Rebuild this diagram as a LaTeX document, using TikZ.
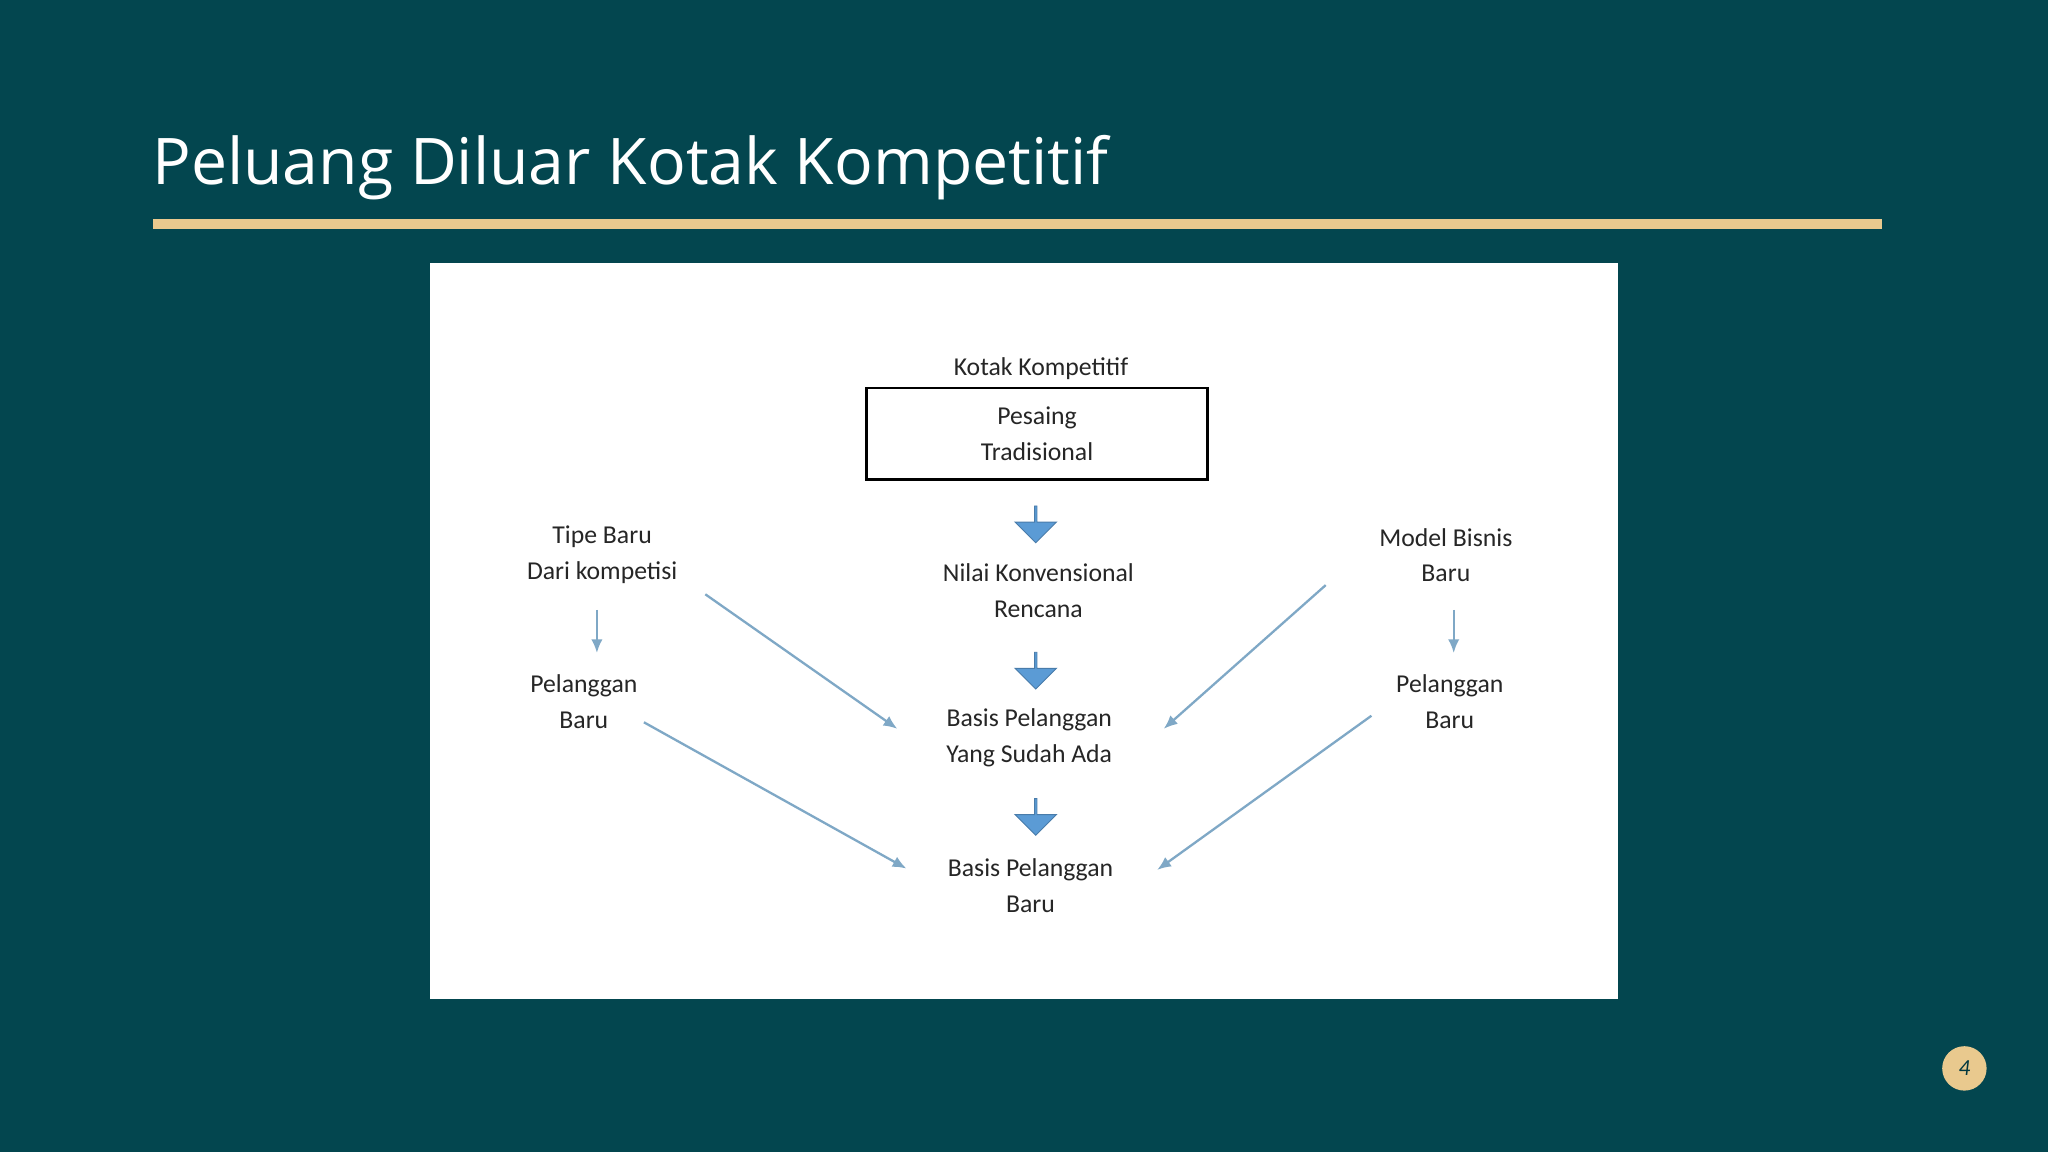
\documentclass[tikz,border=0pt]{standalone}
\usepackage{fontspec}
\setmainfont{Carlito}
\newfontfamily\titlefont{Open Sans}
\usetikzlibrary{shapes.arrows,arrows.meta}
\definecolor{bg}{HTML}{03464F}
\definecolor{gold}{HTML}{E9C98E}
\definecolor{blk}{HTML}{5B9BD5}
\definecolor{thin}{HTML}{7FA8C6}
\tikzset{
 lbl/.style={font=\fontsize{5.6pt}{7.8pt}\selectfont, align=center, text=black!85, inner sep=0pt},
 barrow/.style={single arrow, shape border rotate=270, fill=blk, draw=blk!80!black, line width=0.2pt, minimum width=9pt, minimum height=8pt, single arrow head extend=1.6pt, inner sep=0pt},
 tarrow/.style={draw=thin, line width=0.5pt, -{Latex[length=3pt,width=2.5pt]}}
}
\begin{document}
\begin{tikzpicture}[x=0.01cm,y=-0.01cm]
\fill[bg] (0,0) rectangle (1568,882);
\useasboundingbox (0,0) rectangle (1568,882);
\node[anchor=west, text=white, font=\titlefont\fontsize{14pt}{16pt}\selectfont, inner sep=0pt] (title) at (116,128) {Peluang Diluar Kotak Kompetitif};
\fill[gold] (117,168) rectangle (1441,175);
\fill[white] (329,201) rectangle (1239,765);
\node[lbl] (kk) at (797,282) {Kotak Kompetitif};
\node[lbl, draw=black, line width=0.6pt, minimum width=2.61cm, minimum height=0.7cm] (pt) at (794,332) {Pesaing\\Tradisional};
\node[barrow] (a1) at (793,401) {};
\node[lbl] (nk) at (795,452) {Nilai Konvensional\\Rencana};
\node[barrow] (a2) at (793,513) {};
\node[lbl] (bp) at (788,565) {Basis Pelanggan\\Yang Sudah Ada};
\node[barrow] (a3) at (793,625) {};
\node[lbl] (bb) at (789,678) {Basis Pelanggan\\Baru};
\node[lbl] (tb) at (461,425) {Tipe Baru\\Dari kompetisi};
\node[lbl] (pl) at (447,537) {Pelanggan\\Baru};
\node[lbl] (mb) at (1107,425) {Model Bisnis\\Baru};
\node[lbl] (pr) at (1110,537) {Pelanggan\\Baru};
\coordinate (l1s) at (457,467); \coordinate (l1e) at (457,500);
\coordinate (l2s) at (540,455); \coordinate (l2e) at (687,558);
\coordinate (l3s) at (493,553); \coordinate (l3e) at (694,665);
\coordinate (r1s) at (1113,467); \coordinate (r1e) at (1113,500);
\coordinate (r2s) at (1015,448); \coordinate (r2e) at (891,558);
\coordinate (r3s) at (1050,548); \coordinate (r3e) at (886,666);
\foreach \s/\e in {l1s/l1e,l2s/l2e,l3s/l3e,r1s/r1e,r2s/r2e,r3s/r3e} \draw[tarrow] (\s) -- (\e);
\node[circle, fill=gold, minimum size=0.34cm, inner sep=0pt, font=\fontsize{5pt}{6pt}\selectfont\itshape, text=bg!80!black] (pg) at (1504,818) {4};
\end{tikzpicture}
\end{document}
